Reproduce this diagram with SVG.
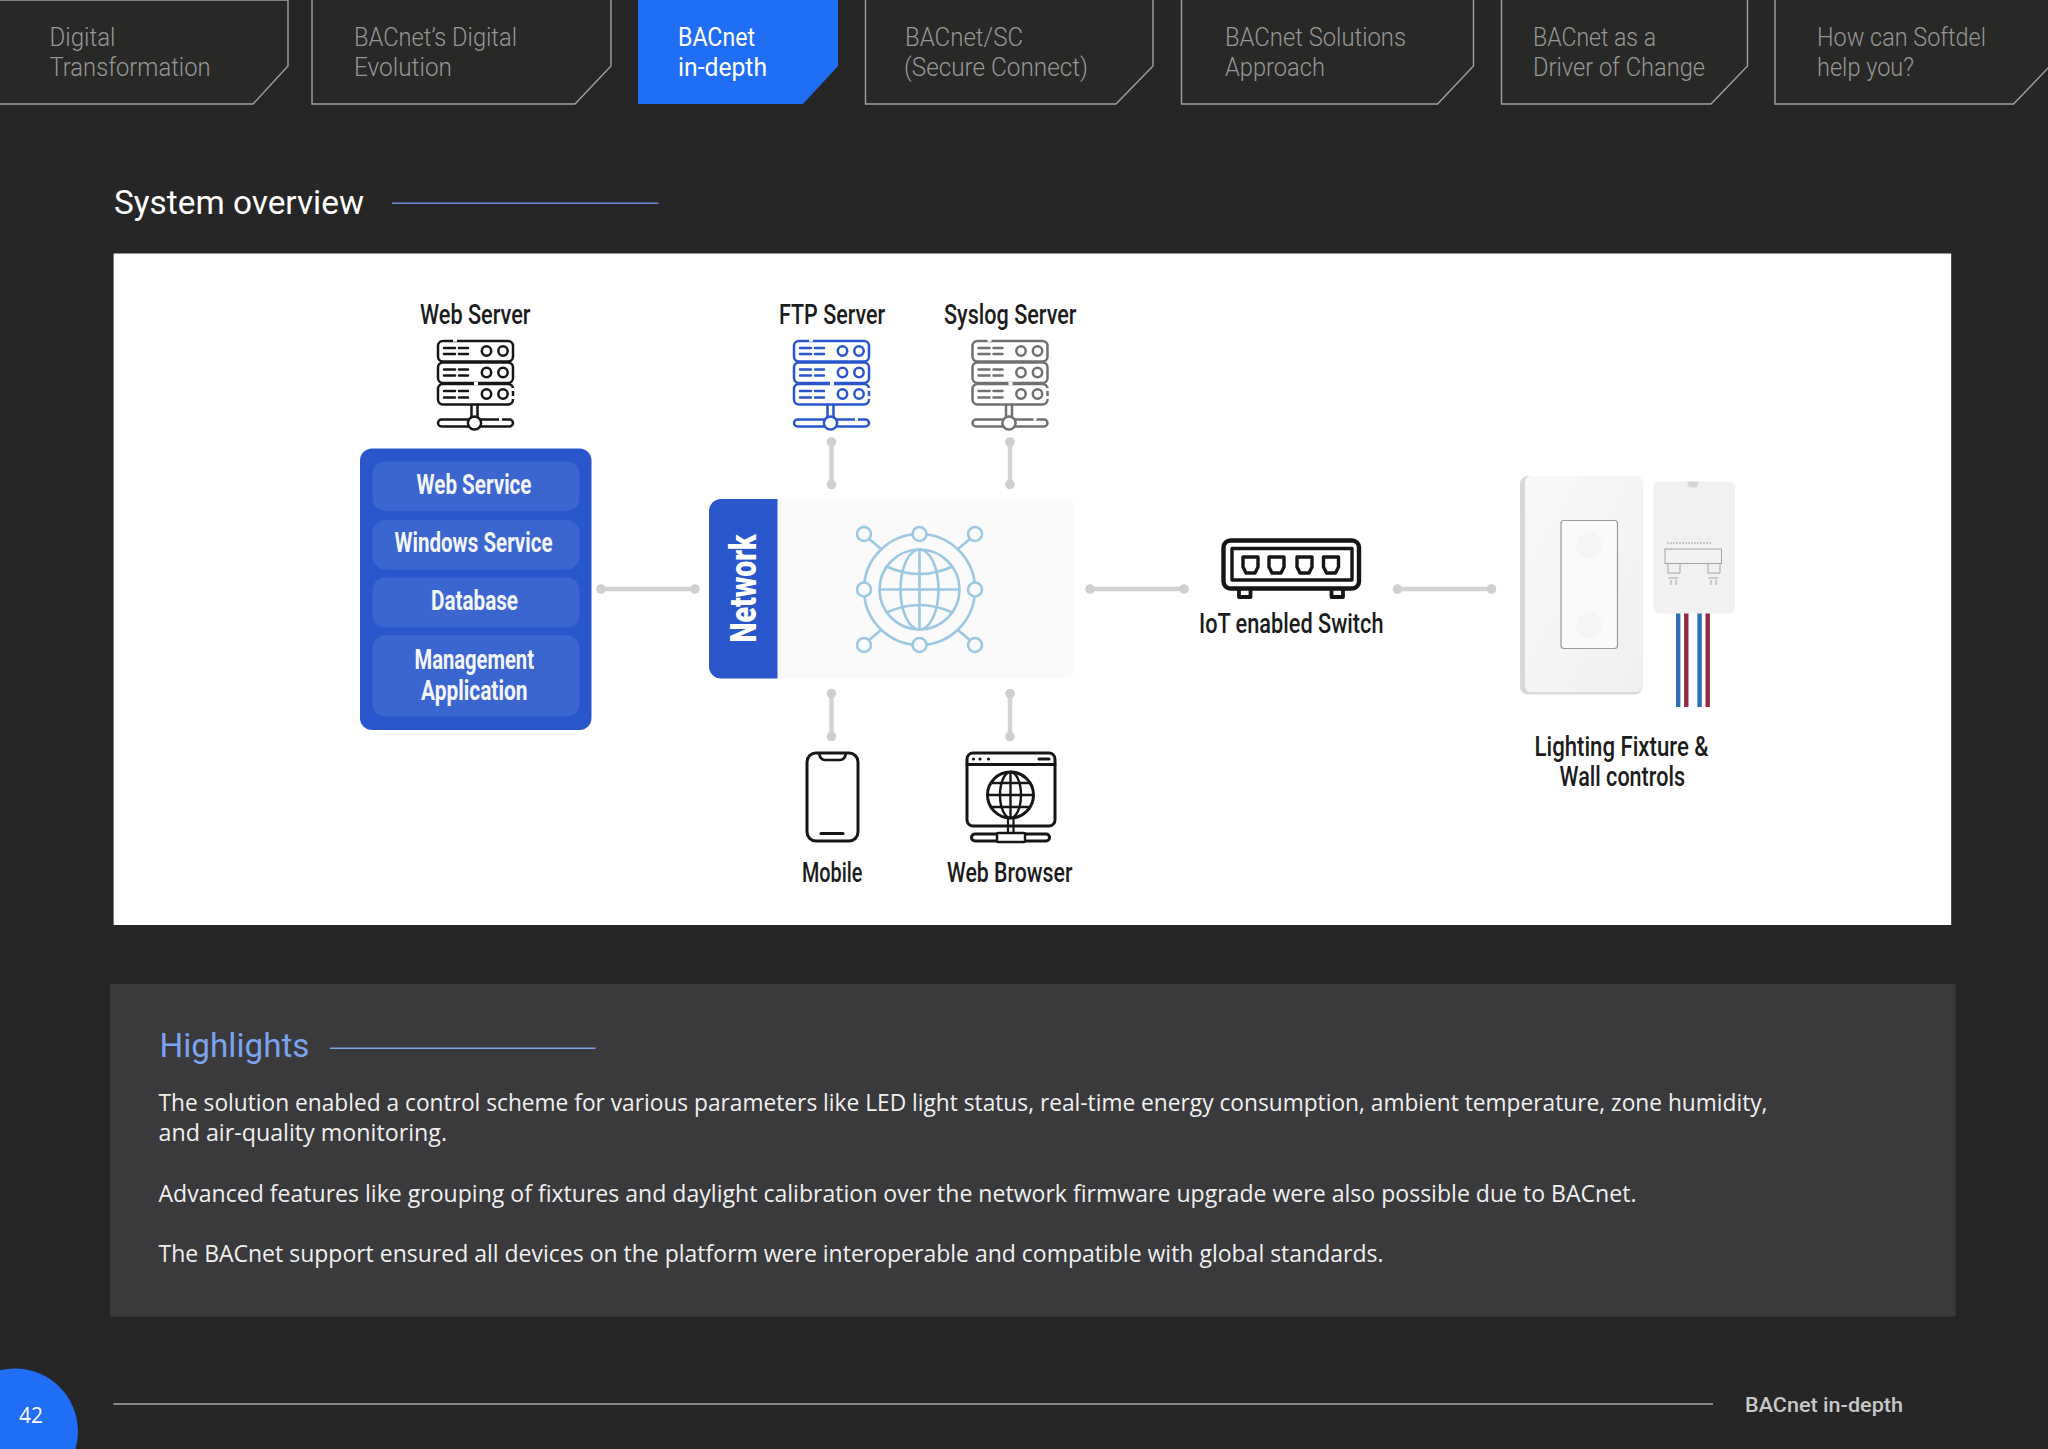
<svg xmlns="http://www.w3.org/2000/svg" width="2048" height="1449" viewBox="0 0 2048 1449">
<style>
.tab{fill:#282827;stroke:#a0a0a0;stroke-width:1.4}
.nav{font-family:"Roboto","Liberation Sans",sans-serif;font-size:25px;font-weight:300;fill:#969696}
.navon{fill:#fff;font-weight:400}
.h{font-family:"Roboto","Liberation Sans",sans-serif;font-size:34px;fill:#fff}
.body{font-family:"Open Sans","Noto Sans",sans-serif;font-size:24px;fill:#f0f0f0}
.lab{font-family:"Roboto","Liberation Sans",sans-serif;font-size:27px;font-weight:500;fill:#1c1c1c}
.wlab{font-family:"Roboto","Liberation Sans",sans-serif;font-size:27px;font-weight:700;fill:#f4f6fd}
.item{fill:#3c66cf}
.conn line{stroke:#d3d3d3;stroke-width:4.5}
.conn circle{fill:#cfcfcf}
.srv{fill:none;stroke:currentColor;stroke-width:2.5;stroke-linecap:round}
.k{fill:none;stroke:#161616;stroke-width:3;stroke-linecap:round;stroke-linejoin:round}
.g{fill:none;stroke:#9cc8e2;stroke-width:2.6;stroke-linecap:round}
</style>
<defs>
<g id="server">
<g class="srv">
<rect x="1" y="1" width="75" height="20.5" rx="5"/>
<rect x="1" y="22.5" width="75" height="20.5" rx="5"/>
<rect x="1" y="44" width="75" height="20.5" rx="5"/>
<path d="M7 8h11M22 8h9M7 14h11M22 14h9M7 29.5h11M22 29.5h9M7 35.5h11M22 35.5h9M7 51h11M22 51h9M7 57.5h11M22 57.5h9"/>
<circle cx="49.5" cy="11" r="4.7"/><circle cx="66" cy="11" r="4.7"/>
<circle cx="49.5" cy="32.5" r="4.7"/><circle cx="66" cy="32.5" r="4.7"/>
<circle cx="49.5" cy="54" r="4.7"/><circle cx="66" cy="54" r="4.7"/>
<path d="M34.5 65v14M40.5 65v14"/>
<rect x="1" y="79.5" width="75" height="7" rx="3.5"/>
<circle cx="37.5" cy="83" r="6.6" fill="#fff"/>
</g>
<path d="M16 0h4M37 43.5h4M76 48v3M76 56v3M62 79h3" stroke="#fff" stroke-width="3.4" fill="none"/>
</g>
<linearGradient id="plate" x1="0" x2="1" y1="0" y2="1"><stop offset="0" stop-color="#f9f9f9"/><stop offset="1" stop-color="#f0f0f0"/></linearGradient>
</defs>

<rect width="2048" height="1449" fill="#262627"/>

<g id="tab-1"><path class="tab" d="M-2 0H288V66L253 104H-2Z"/><text class="nav" x="49.5" y="46" textLength="66" lengthAdjust="spacingAndGlyphs">Digital</text><text class="nav" x="49.5" y="76" textLength="161" lengthAdjust="spacingAndGlyphs">Transformation</text></g>
<g id="tab-2"><path class="tab" d="M312 -2V104H575L611 66V-2"/><text class="nav" x="354" y="46" textLength="163" lengthAdjust="spacingAndGlyphs">BACnet’s Digital</text><text class="nav" x="354" y="76" textLength="98" lengthAdjust="spacingAndGlyphs">Evolution</text></g>
<g id="tab-3"><path fill="#1f6ef5" d="M638 0H838V66L803 104H638Z"/><text class="nav navon" x="678" y="46" textLength="77" lengthAdjust="spacingAndGlyphs">BACnet</text><text class="nav navon" x="678" y="76" textLength="89" lengthAdjust="spacingAndGlyphs">in-depth</text></g>
<g id="tab-4"><path class="tab" d="M865.5 -2V104H1116L1153 66V-2"/><text class="nav" x="905" y="46" textLength="118" lengthAdjust="spacingAndGlyphs">BACnet/SC</text><text class="nav" x="904" y="76" textLength="184" lengthAdjust="spacingAndGlyphs">(Secure Connect)</text></g>
<g id="tab-5"><path class="tab" d="M1181.5 -2V104H1437.5L1473.5 66V-2"/><text class="nav" x="1225" y="46" textLength="181" lengthAdjust="spacingAndGlyphs">BACnet Solutions</text><text class="nav" x="1225" y="76" textLength="100" lengthAdjust="spacingAndGlyphs">Approach</text></g>
<g id="tab-6"><path class="tab" d="M1501.5 -2V104H1711L1747.5 66V-2"/><text class="nav" x="1533" y="46" textLength="123" lengthAdjust="spacingAndGlyphs">BACnet as a</text><text class="nav" x="1533" y="76" textLength="172" lengthAdjust="spacingAndGlyphs">Driver of Change</text></g>
<g id="tab-7"><path class="tab" d="M1775 -2V104H2013.5L2050 66V-2"/><text class="nav" x="1817" y="46" textLength="169" lengthAdjust="spacingAndGlyphs">How can Softdel</text><text class="nav" x="1817" y="76" textLength="97" lengthAdjust="spacingAndGlyphs">help you?</text></g>

<g id="title"><text class="h" x="114" y="214" textLength="250" lengthAdjust="spacingAndGlyphs">System overview</text><line x1="392" y1="203.3" x2="658.5" y2="203.3" stroke="#6c8bd6" stroke-width="1.6"/></g>

<rect id="panel" x="113.6" y="253.5" width="1837.6" height="671.5" fill="#fff"/>

<g id="connectors" class="conn">
<line x1="601" y1="589" x2="695" y2="589"/><circle cx="601" cy="589" r="4.8"/><circle cx="695" cy="589" r="4.8"/>
<line x1="1090" y1="589" x2="1184" y2="589"/><circle cx="1090" cy="589" r="4.8"/><circle cx="1184" cy="589" r="4.8"/>
<line x1="1397.5" y1="589" x2="1491.5" y2="589"/><circle cx="1397.5" cy="589" r="4.8"/><circle cx="1491.5" cy="589" r="4.8"/>
<line x1="831.5" y1="442" x2="831.5" y2="484.5"/><circle cx="831.5" cy="442" r="4.8"/><circle cx="831.5" cy="484.5" r="4.8"/>
<line x1="1010" y1="442" x2="1010" y2="484.5"/><circle cx="1010" cy="442" r="4.8"/><circle cx="1010" cy="484.5" r="4.8"/>
<line x1="831.5" y1="693.5" x2="831.5" y2="736.5"/><circle cx="831.5" cy="693.5" r="4.8"/><circle cx="831.5" cy="736.5" r="4.8"/>
<line x1="1010" y1="693.5" x2="1010" y2="736.5"/><circle cx="1010" cy="693.5" r="4.8"/><circle cx="1010" cy="736.5" r="4.8"/>
</g>

<g id="web-server" color="#161616"><text class="lab" x="420" y="324" textLength="110.5" lengthAdjust="spacingAndGlyphs">Web Server</text><use href="#server" x="437" y="340"/></g>
<g id="ftp-server" color="#2a56cc"><text class="lab" x="779" y="324" textLength="106" lengthAdjust="spacingAndGlyphs">FTP Server</text><use href="#server" x="793" y="340"/></g>
<g id="syslog-server" color="#707070"><text class="lab" x="944" y="324" textLength="132.5" lengthAdjust="spacingAndGlyphs">Syslog Server</text><use href="#server" x="971.5" y="340"/></g>

<g id="service-stack">
<rect x="360" y="448.5" width="231.5" height="281.5" rx="12" fill="#2a56cc"/>
<rect class="item" x="372.5" y="461.5" width="207" height="49.5" rx="13"/>
<rect class="item" x="372.5" y="520" width="207" height="49.5" rx="13"/>
<rect class="item" x="372.5" y="577.5" width="207" height="50" rx="13"/>
<rect class="item" x="372.5" y="635" width="207" height="81.5" rx="13"/>
<text class="wlab" x="416.5" y="493.5" textLength="115" lengthAdjust="spacingAndGlyphs">Web Service</text>
<text class="wlab" x="394.5" y="552" textLength="158" lengthAdjust="spacingAndGlyphs">Windows Service</text>
<text class="wlab" x="431" y="610" textLength="87" lengthAdjust="spacingAndGlyphs">Database</text>
<text class="wlab" x="414.5" y="669" textLength="119.5" lengthAdjust="spacingAndGlyphs">Management</text>
<text class="wlab" x="421" y="700" textLength="106.5" lengthAdjust="spacingAndGlyphs">Application</text>
</g>

<g id="network">
<rect x="760" y="499.5" width="315" height="179" rx="10" fill="#fafafb"/>
<path d="M777.5 499H721a12 12 0 0 0 -12 12V666.5a12 12 0 0 0 12 12H777.5Z" fill="#2a56cc"/>
<text transform="translate(756 642.5) rotate(-90)" font-family="Roboto,'Liberation Sans',sans-serif" font-size="36" font-weight="900" fill="#fff" textLength="108" lengthAdjust="spacingAndGlyphs">Network</text>
<g transform="translate(919.5 589.5)" class="g">
<circle r="55.5"/>
<circle r="40"/>
<ellipse rx="19" ry="40"/>
<path d="M0 -40V40M-40 0H40M-33 -23Q0 -8 33 -23M-33 23Q0 8 33 23"/>
<path d="M-39 -41L-51 -51M39 -41L51 -51M-39 41L-51 51M39 41L51 51"/>
<g fill="#fafafb">
<circle cx="-55.5" cy="-55.5" r="7"/><circle cx="0" cy="-55.5" r="7"/><circle cx="55.5" cy="-55.5" r="7"/>
<circle cx="-55.5" cy="0" r="7"/><circle cx="55.5" cy="0" r="7"/>
<circle cx="-55.5" cy="55.5" r="7"/><circle cx="0" cy="55.5" r="7"/><circle cx="55.5" cy="55.5" r="7"/>
</g>
</g>
</g>

<g id="iot-switch">
<rect class="k" x="1223.5" y="540.5" width="135.5" height="48" rx="7" style="stroke-width:4.4"/>
<rect class="k" x="1232" y="548.5" width="120" height="31.5" style="stroke-width:3.4"/>
<path class="k" d="M1243 557h15v10l-3 6h-9l-3-6ZM1269 557h15v10l-3 6h-9l-3-6ZM1297 557h15v10l-3 6h-9l-3-6ZM1323.5 557h15v10l-3 6h-9l-3-6Z" style="stroke-width:3.4"/>
<path class="k" d="M1239 590v7h11.5v-7M1331.5 590v7h11.5v-7" style="stroke-width:3.8"/>
<text class="lab" x="1199" y="632.5" textLength="184.5" lengthAdjust="spacingAndGlyphs">IoT enabled Switch</text>
</g>

<g id="lighting">
<rect x="1520" y="476" width="122.5" height="218.5" rx="8" fill="#d9d9d9"/>
<rect x="1525" y="476" width="117.5" height="216" rx="6" fill="url(#plate)"/>
<rect x="1561" y="520.5" width="56.5" height="128" rx="3" fill="#fafafa" stroke="#9a9a9a" stroke-width="1.2"/>
<circle cx="1589" cy="545" r="13" fill="#f5f5f5"/><circle cx="1589" cy="625" r="13" fill="#f5f5f5"/>
<rect x="1653.5" y="481.5" width="81.5" height="132" rx="5" fill="#f1f1f1"/>
<path d="M1687 481.5h12l-2 6h-8Z" fill="#d8d8d8"/>
<g fill="none" stroke="#a4a4a4" stroke-width="1">
<rect x="1665" y="549" width="56.5" height="14.5"/>
<path d="M1667 543h44" stroke-dasharray="2 1"/>
<path d="M1668 564v9h12v-9M1708 564v9h12v-9M1668 578h10M1708 578h10M1671 580v5M1676 580v5M1711 580v5M1716 580v5"/>
</g>
<g stroke-width="4.4" fill="none">
<path d="M1678.2 613.5V707M1699.6 613.5V707" stroke="#2d6eb4"/>
<path d="M1686.3 613.5V707M1707.7 613.5V707" stroke="#98283f"/>
</g>
<text class="lab" x="1534.5" y="755.5" textLength="174" lengthAdjust="spacingAndGlyphs">Lighting Fixture &amp;</text>
<text class="lab" x="1559.5" y="785.5" textLength="125.5" lengthAdjust="spacingAndGlyphs">Wall controls</text>
</g>

<g id="mobile">
<rect class="k" x="807" y="753" width="51" height="88" rx="9"/>
<path class="k" d="M819 753q1 7 6 7h15q5 0 6-7" style="stroke-width:2.6"/>
<path class="k" d="M821 833.5h22"/>
<text class="lab" x="802" y="882" textLength="60.5" lengthAdjust="spacingAndGlyphs">Mobile</text>
</g>

<g id="web-browser">
<rect class="k" x="967" y="753" width="88" height="73" rx="6"/>
<path class="k" d="M967 764.5H1055M1039 759h10"/>
<g fill="#161616"><circle cx="973.5" cy="759" r="1.6"/><circle cx="980" cy="759" r="1.6"/><circle cx="988.5" cy="759" r="1.6"/></g>
<circle class="k" cx="1010.5" cy="795" r="23"/><ellipse class="k" cx="1010.5" cy="795" rx="10.5" ry="23" style="stroke-width:2.4"/><path class="k" d="M1010.5 772V818M987.5 795H1033.5M991 783H1030M991 807H1030" style="stroke-width:2.4"/>
<path d="M1008 818v15.5M1013.5 818v15.5" class="k" style="stroke-width:2.2"/>
<rect class="k" x="971.5" y="834" width="78" height="7" rx="3.5"/>
<rect x="997" y="833" width="28" height="9" fill="#fff" stroke="#161616" stroke-width="2.4" rx="1"/>
<text class="lab" x="947" y="882" textLength="125.5" lengthAdjust="spacingAndGlyphs">Web Browser</text>
</g>

<g id="highlights">
<rect x="110" y="984" width="1845.5" height="332.5" fill="#3a3a3c"/>
<text class="h" x="159.5" y="1057" style="fill:#7ba3ee" textLength="150" lengthAdjust="spacingAndGlyphs">Highlights</text>
<line x1="330" y1="1048.3" x2="595.5" y2="1048.3" stroke="#7ba3ee" stroke-width="1.6"/>
<text class="body" x="158.5" y="1110.5" textLength="1609" lengthAdjust="spacingAndGlyphs">The solution enabled a control scheme for various parameters like LED light status, real-time energy consumption, ambient temperature, zone humidity,</text>
<text class="body" x="158.5" y="1141" textLength="288.5" lengthAdjust="spacingAndGlyphs">and air-quality monitoring.</text>
<text class="body" x="158.5" y="1201.5" textLength="1478" lengthAdjust="spacingAndGlyphs">Advanced features like grouping of fixtures and daylight calibration over the network firmware upgrade were also possible due to BACnet.</text>
<text class="body" x="158.5" y="1261.5" textLength="1225" lengthAdjust="spacingAndGlyphs">The BACnet support ensured all devices on the platform were interoperable and compatible with global standards.</text>
</g>

<g id="footer">
<circle cx="15" cy="1431.5" r="63" fill="#1f6ef5"/>
<text x="19" y="1423" font-family="'Open Sans',sans-serif" font-size="21" fill="#fff" textLength="24" lengthAdjust="spacingAndGlyphs">42</text>
<line x1="113.5" y1="1404" x2="1713" y2="1404" stroke="#aaa" stroke-width="1.6"/>
<text x="1745" y="1412" font-family="Roboto,sans-serif" font-size="21" font-weight="500" fill="#c8c8c8" textLength="158" lengthAdjust="spacingAndGlyphs">BACnet in-depth</text>
</g>
</svg>
